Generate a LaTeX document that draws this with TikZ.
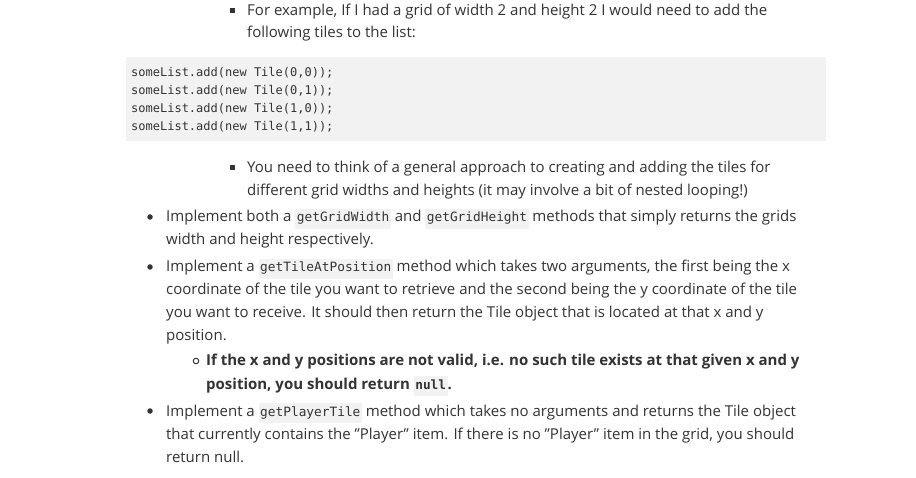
\documentclass[tikz,border=0pt]{standalone}
\usepackage{fontspec}
\setmainfont{Open Sans}
\setmonofont{DejaVu Sans Mono}
\definecolor{txt}{HTML}{333333}
\definecolor{codebg}{HTML}{F2F2F2}
\newcommand{\ic}[1]{{\setlength{\fboxsep}{1.5pt}\colorbox{codebg}{\strut\fontsize{12.8}{14}\ttfamily #1}}}
\newcommand{\qq}{\char"22\relax}
\begin{document}
\begin{tikzpicture}[x=1pt,y=-1pt,
  ln/.style={anchor=base west,inner sep=0pt,text=txt,font=\fontsize{15}{17}\selectfont},
  cl/.style={anchor=base west,inner sep=0pt,text=txt,font=\fontsize{12}{12}\ttfamily},
  sq/.style={fill=txt,minimum size=5pt,inner sep=0pt},
  dot/.style={circle,fill=txt,minimum size=5.5pt,inner sep=0pt},
  ring/.style={circle,draw=txt,line width=1pt,minimum size=5.5pt,inner sep=0pt}]
\useasboundingbox (0,0) rectangle (916,478);
\fill[white] (0,0) rectangle (916,478);
\node[sq] (b1) at (232,11) {};
\node[ln] (t1) at (247,16) {For example, If I had a grid of width 2 and height 2 I would need to add the};
\node[ln] (t2) at (247,38) {following tiles to the list:};
\fill[codebg] (126,57) rectangle (826,141);
\node[cl] (c1) at (131,77) {someList.add(new Tile(0,0));};
\node[cl] (c2) at (131,95) {someList.add(new Tile(0,1));};
\node[cl] (c3) at (131,113) {someList.add(new Tile(1,0));};
\node[cl] (c4) at (131,131) {someList.add(new Tile(1,1));};
\node[sq] (b2) at (232,168) {};
\node[ln] (t3) at (247,173) {You need to think of a general approach to creating and adding the tiles for};
\node[ln] (t4) at (247,196) {different grid widths and heights (it may involve a bit of nested looping!)};
\node[dot] (d1) at (150,217) {};
\node[ln] (t5) at (166,222) {Implement both a \ic{getGridWidth} and \ic{getGridHeight} methods that simply returns the grids};
\node[ln] (t6) at (166,245) {width and height respectively.};
\node[dot] (d2) at (150,267) {};
\node[ln] (t7) at (166,272) {Implement a \ic{getTileAtPosition} method which takes two arguments, the first being the x};
\node[ln] (t8) at (166,295) {coordinate of the tile you want to retrieve and the second being the y coordinate of the tile};
\node[ln] (t9) at (166,318) {you want to receive. It should then return the Tile object that is located at that x and y};
\node[ln] (t10) at (166,341) {position.};
\node[ring] (r1) at (196,361) {};
\node[ln,font=\fontsize{15}{17}\bfseries] (t11) at (206,366) {If the x and y positions are not valid, i.e. no such tile exists at that given x and y};
\node[ln,font=\fontsize{15}{17}\bfseries] (t12) at (206,389) {position, you should return \ic{\bfseries null}.};
\node[dot] (d3) at (150,411) {};
\node[ln] (t13) at (166,416) {Implement a \ic{getPlayerTile} method which takes no arguments and returns the Tile object};
\node[ln] (t14) at (166,439) {that currently contains the \qq Player\qq{} item. If there is no \qq Player\qq{} item in the grid, you should};
\node[ln] (t15) at (166,462) {return null.};
\end{tikzpicture}
\end{document}
